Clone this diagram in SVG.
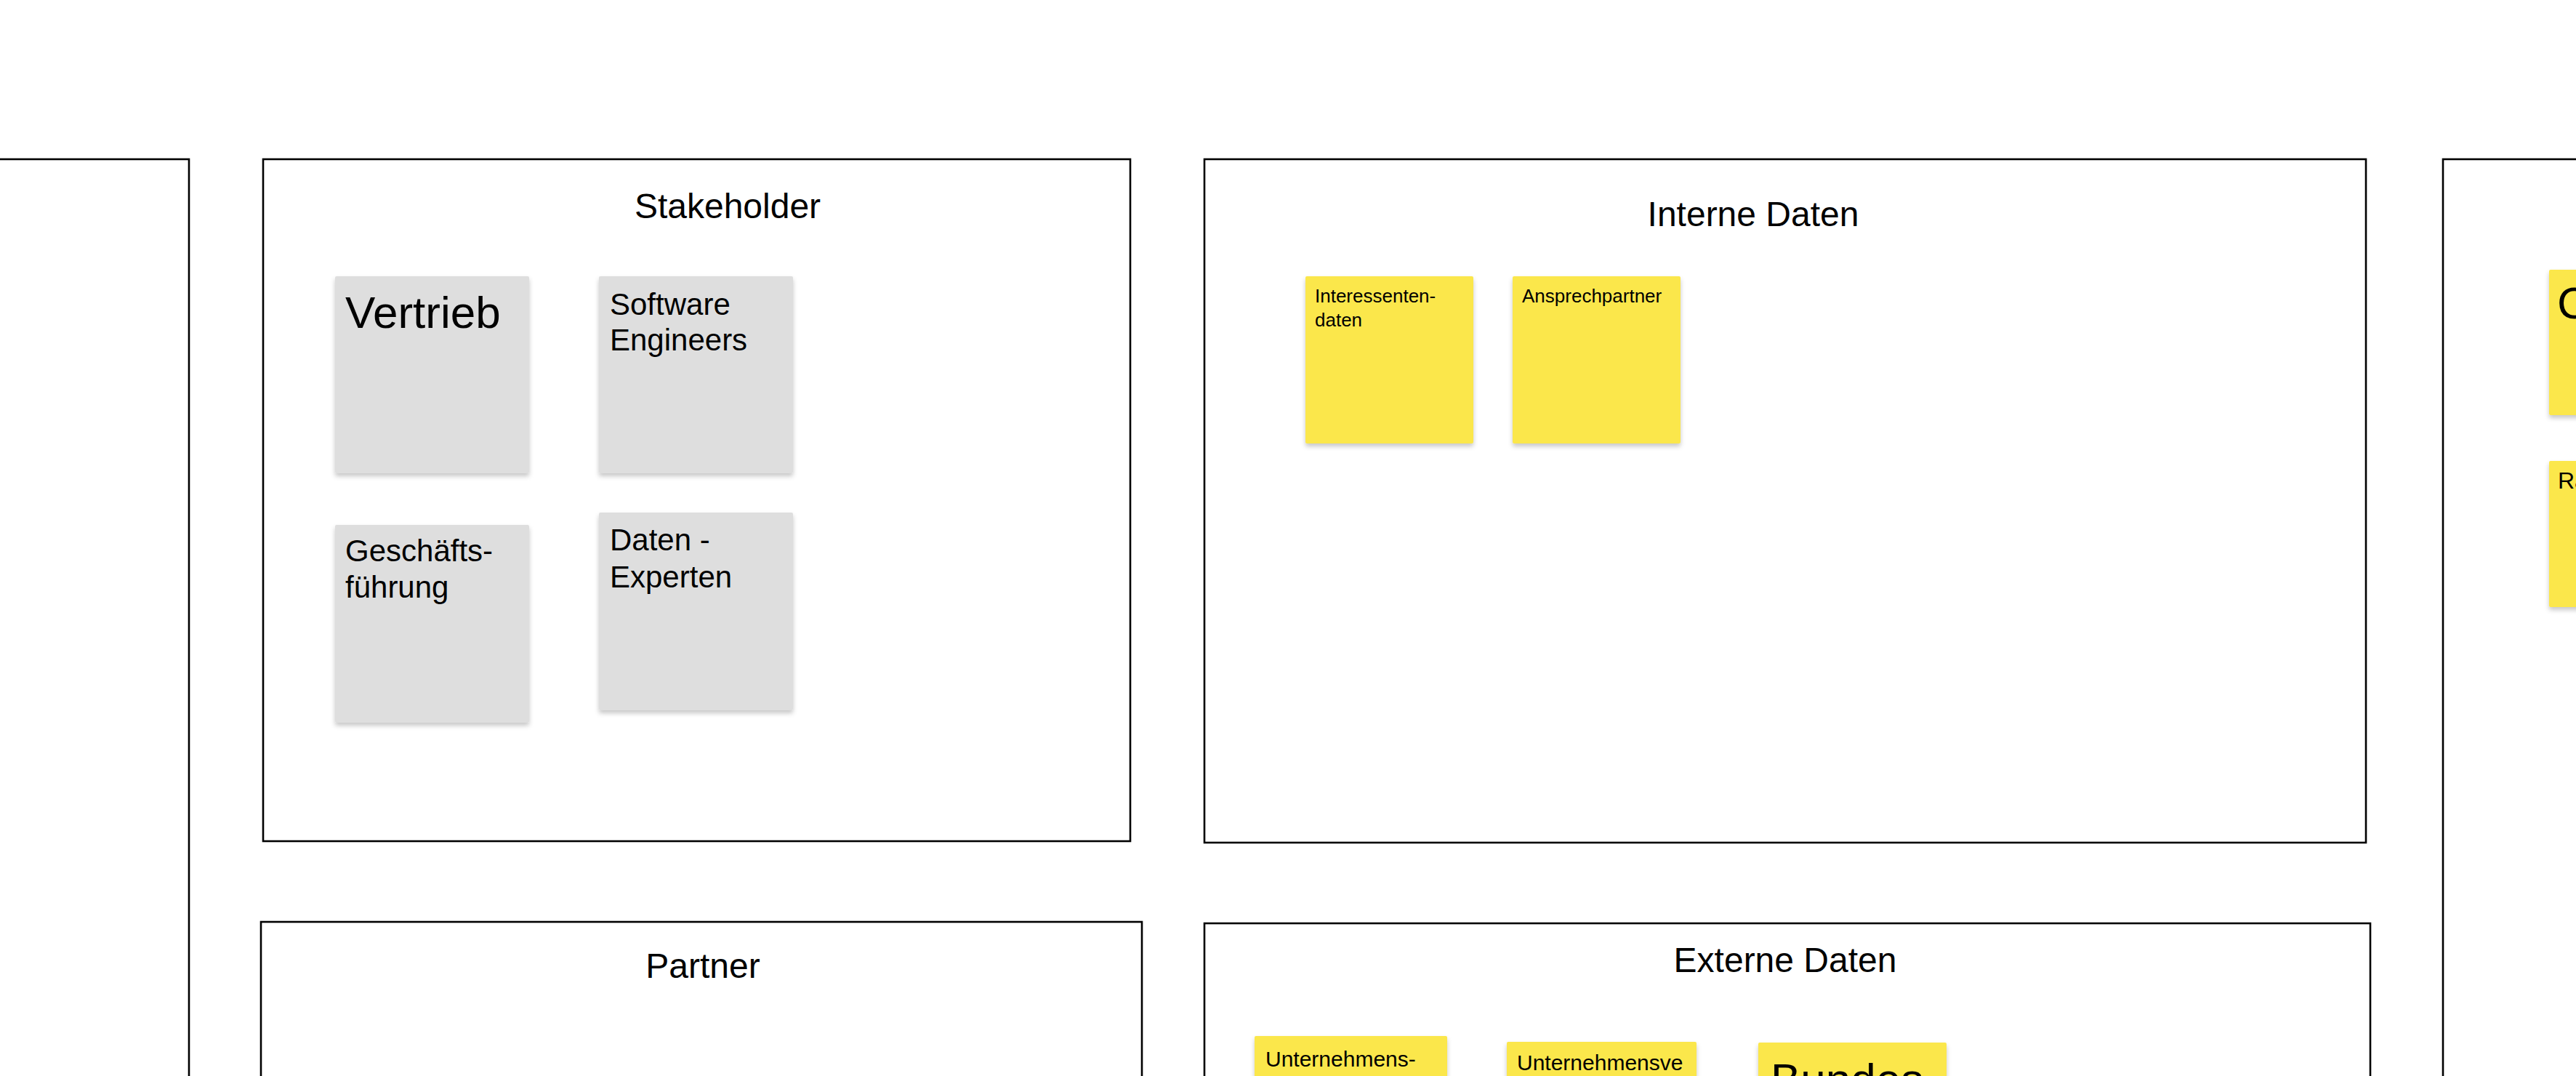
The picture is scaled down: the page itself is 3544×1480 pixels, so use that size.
<svg xmlns="http://www.w3.org/2000/svg" width="3544" height="1480" viewBox="0 0 3544 1480">
<defs>
<style>
.frame{fill:#fff;stroke:#000;stroke-width:2.6}
.title{font-family:"Liberation Sans",Arial,sans-serif;font-size:48px;fill:#000;text-anchor:middle}
.gray{fill:#dedede}
.yellow{fill:#fbe74b}
.t{font-family:"Liberation Sans",Arial,sans-serif;fill:#000}
.big{font-size:62px}
.mid{font-size:42px}
.small{font-size:26px}
.s30{font-size:30px}
.s32{font-size:32px}
</style>
<filter id="sh" x="-10%" y="-10%" width="120%" height="125%">
<feDropShadow dx="0" dy="4" stdDeviation="3" flood-color="#000" flood-opacity="0.22"/>
</filter>
</defs>
<rect width="3544" height="1480" fill="#fff"/>

<g id="frame-left"><rect class="frame" x="-20" y="219" width="280" height="1300"/></g>

<g id="frame-stakeholder">
<rect class="frame" x="362" y="219" width="1193" height="938"/>
<text class="title" x="1001" y="300">Stakeholder</text>
</g>
<g id="note-vertrieb">
<rect class="gray" x="461" y="380" width="267" height="271" rx="2" filter="url(#sh)"/>
<text class="t big" x="475" y="451">Vertrieb</text>
</g>
<g id="note-software-engineers">
<rect class="gray" x="824" y="380" width="267" height="271" rx="2" filter="url(#sh)"/>
<text class="t mid" x="839" y="433">Software</text>
<text class="t mid" x="839" y="482">Engineers</text>
</g>
<g id="note-geschaeftsfuehrung">
<rect class="gray" x="461" y="722" width="267" height="272" rx="2" filter="url(#sh)"/>
<text class="t mid" x="475" y="772">Geschäfts-</text>
<text class="t mid" x="475" y="822">führung</text>
</g>
<g id="note-daten-experten">
<rect class="gray" x="824" y="705" width="267" height="272" rx="2" filter="url(#sh)"/>
<text class="t mid" x="839" y="757">Daten -</text>
<text class="t mid" x="839" y="808">Experten</text>
</g>

<g id="frame-interne-daten">
<rect class="frame" x="1657" y="219" width="1598" height="940"/>
<text class="title" x="2412" y="311">Interne Daten</text>
</g>
<g id="note-interessentendaten">
<rect class="yellow" x="1796" y="380" width="231" height="230" rx="2" filter="url(#sh)"/>
<text class="t small" x="1809" y="416">Interessenten-</text>
<text class="t small" x="1809" y="449">daten</text>
</g>
<g id="note-ansprechpartner">
<rect class="yellow" x="2081" y="380" width="231" height="230" rx="2" filter="url(#sh)"/>
<text class="t small" x="2094" y="416">Ansprechpartner</text>
</g>

<g id="frame-right">
<rect class="frame" x="3361" y="219" width="300" height="1300"/>
</g>
<g id="note-right-1">
<rect class="yellow" x="3507" y="371" width="200" height="200" rx="2" filter="url(#sh)"/>
<text class="t big" x="3518" y="438">C</text>
</g>
<g id="note-right-2">
<rect class="yellow" x="3507" y="634" width="200" height="201" rx="2" filter="url(#sh)"/>
<text class="t s32" x="3519" y="672">Ra</text>
</g>

<g id="frame-partner">
<rect class="frame" x="359" y="1268" width="1212" height="300"/>
<text class="title" x="967" y="1345">Partner</text>
</g>

<g id="frame-externe-daten">
<rect class="frame" x="1657" y="1270" width="1604" height="300"/>
<text class="title" x="2456" y="1337">Externe Daten</text>
</g>
<g id="note-unternehmens">
<rect class="yellow" x="1726" y="1425" width="265" height="120" rx="2" filter="url(#sh)"/>
<text class="t s30" x="1741" y="1467">Unternehmens-</text>
</g>
<g id="note-unternehmensve">
<rect class="yellow" x="2073" y="1433" width="261" height="120" rx="2" filter="url(#sh)"/>
<text class="t s30" x="2087" y="1472">Unternehmensve</text>
</g>
<g id="note-bundes">
<rect class="yellow" x="2419" y="1434" width="259" height="120" rx="2" filter="url(#sh)"/>
<text class="t big" x="2436" y="1506">Bundes</text>
</g>

<g id="connectors"></g>
</svg>
